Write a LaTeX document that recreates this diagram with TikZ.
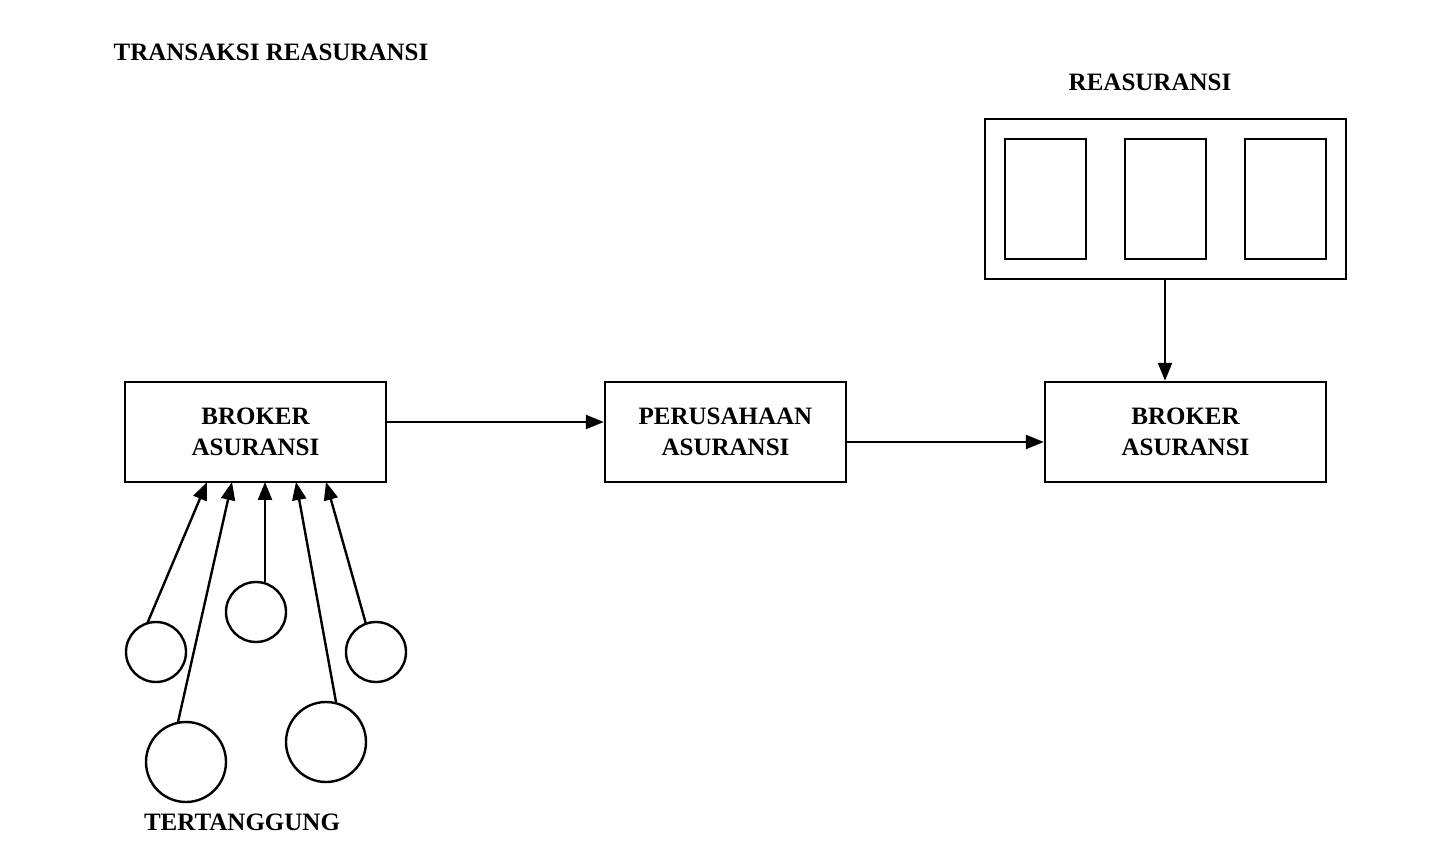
\documentclass[tikz,border=0pt]{standalone}
\usepackage{fontspec}
\setmainfont{Liberation Serif}
\usetikzlibrary{arrows.meta}
\begin{document}
\begin{tikzpicture}[x=0.5pt,y=-0.5pt,
  lbl/.style={font=\bfseries\fontsize{12.5}{12.5}\selectfont, align=center, inner sep=0},
  box/.style={draw, line width=1.2pt},
  circ/.style={draw, circle, line width=1.2pt, inner sep=0},
  arr/.style={line width=1.2pt, -{Triangle[length=9pt,width=7pt]}}]
\useasboundingbox (0,0) rectangle (1450,865);
\node[lbl] (title) at (271,52) {TRANSAKSI REASURANSI};
\node[lbl] (reas) at (1150,82) {REASURANSI};
\node[box, minimum width=180.5pt, minimum height=80pt, inner sep=0] (outer) at (1165.5,199) {};
\node[box, minimum width=40.5pt, minimum height=60pt, inner sep=0] (i1) at (1045.5,199) {};
\node[box, minimum width=40.5pt, minimum height=60pt, inner sep=0] (i2) at (1165.5,199) {};
\node[box, minimum width=40.5pt, minimum height=60pt, inner sep=0] (i3) at (1285.5,199) {};
\node[box, lbl, minimum width=130.5pt, minimum height=50pt] (b1) at (255.5,432) {BROKER\\[3pt]ASURANSI};
\node[box, lbl, minimum width=120.5pt, minimum height=50pt] (p) at (725.5,432) {PERUSAHAAN\\[3pt]ASURANSI};
\node[box, lbl, minimum width=140.5pt, minimum height=50pt] (b2) at (1185.5,432) {BROKER\\[3pt]ASURANSI};
\draw[arr] (b1.east |- 0,422) -- (p.west |- 0,422);
\draw[arr] (p.east |- 0,442) -- (b2.west |- 0,442);
\draw[arr] (outer.south -| 1165,0) -- (b2.north -| 1165,0);
\node[circ, minimum size=30pt] (c1) at (156,652) {};
\node[circ, minimum size=30pt] (c2) at (256,612) {};
\node[circ, minimum size=30pt] (c3) at (376,652) {};
\node[circ, minimum size=40pt] (c4) at (186,762) {};
\node[circ, minimum size=40pt] (c5) at (326,742) {};
\coordinate (a1) at (207,482);
\coordinate (a4) at (232,482);
\coordinate (a2) at (265,482);
\coordinate (a5) at (296,482);
\coordinate (a3) at (326,482);
\coordinate (s1) at (147,624);
\coordinate (s4) at (178,722);
\coordinate (s2) at (265,582);
\coordinate (s5) at (336,702);
\coordinate (s3) at (366,624);
\draw[arr] (s1) -- (a1);
\draw[arr] (s4) -- (a4);
\draw[arr] (s2) -- (a2);
\draw[arr] (s5) -- (a5);
\draw[arr] (s3) -- (a3);
\node[lbl] (tt) at (242,822) {TERTANGGUNG};
\end{tikzpicture}
\end{document}
